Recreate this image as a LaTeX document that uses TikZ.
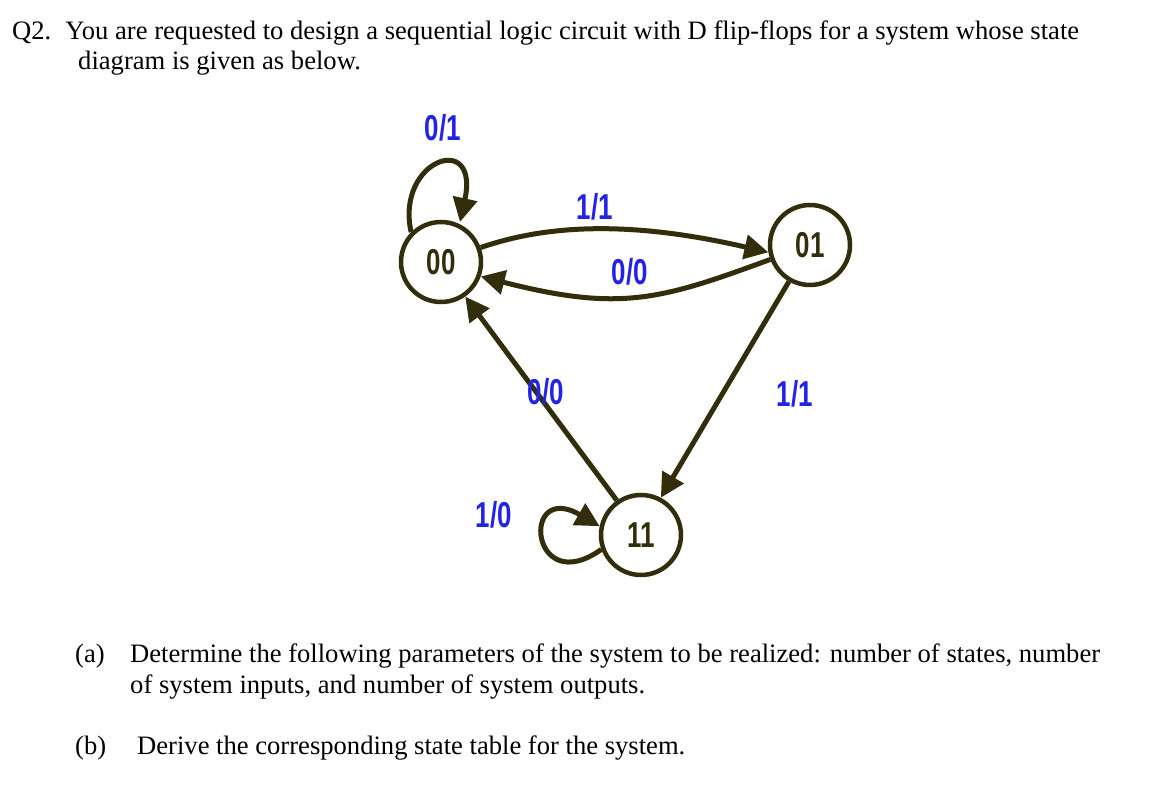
\documentclass[tikz,border=0pt]{standalone}
\usepackage{fontspec}
\setmainfont{Liberation Serif}
\newfontfamily\lblfont{Liberation Sans}
\usetikzlibrary{arrows.meta}
\definecolor{dk}{RGB}{50,45,10}
\definecolor{bl}{RGB}{35,35,230}
\newcommand{\nar}[1]{\scalebox{0.72}[1]{#1}}
\begin{document}
\begin{tikzpicture}[x=1pt,y=-1pt,
  st/.style={circle,draw=dk,line width=4.5pt,minimum size=80pt,inner sep=0pt,text=dk,font=\lblfont\bfseries\fontsize{36}{36}\selectfont},
  tr/.style={draw=dk,line width=5pt,-{Triangle[length=24pt,width=24pt]}},
  lb/.style={text=bl,font=\lblfont\bfseries\fontsize{36}{36}\selectfont},
  tx/.style={anchor=base west,font=\fontsize{26.6}{26.6}\selectfont,inner sep=0pt}]
\useasboundingbox (0,0) rectangle (1151,799);
\node[tx] (q) at (12,40) {Q2.\hspace{14pt}You are requested to design a sequential logic circuit with D flip-flops for a system whose state};
\node[tx] (q2) at (78,70) {diagram is given as below.};
\node[tx] (a) at (75,662) {(a)};
\node[tx] (a1) at (130,662) {Determine the following parameters of the system to be realized: number of states, number};
\node[tx] (a2) at (130,693) {of system inputs, and number of system outputs.};
\node[tx] (b) at (75,754) {(b)};
\node[tx] (b1) at (137,754) {Derive the corresponding state table for the system.};
\node[st] (s00) at (441,262) {\nar{00}};
\node[st] (s01) at (810,245) {\nar{01}};
\node[st] (s11) at (641,535) {\nar{11}};
\draw[tr] (s00.north west) .. controls (395,160) and (480,130) .. (460,222);
\draw[tr] (s00.20) .. controls (560,220) and (650,225) .. (s01.190);
\draw[tr] (s01.200) .. controls (660,300) and (620,312) .. (s00.340);
\draw[tr] (s01.240) -- (s11.62);
\draw[tr] (s11.125) -- (s00.305);
\draw[tr] (s11.200) .. controls (530,600) and (520,480) .. (s11.168);
\node[lb] (l1) at (443,128) {\nar{0/1}};
\node[lb] (l2) at (595,207) {\nar{1/1}};
\node[lb] (l3) at (630,272) {\nar{0/0}};
\node[lb] (l4) at (546,392) {\nar{0/0}};
\node[lb] (l5) at (795,394) {\nar{1/1}};
\node[lb] (l6) at (494,515) {\nar{1/0}};
\end{tikzpicture}
\end{document}
